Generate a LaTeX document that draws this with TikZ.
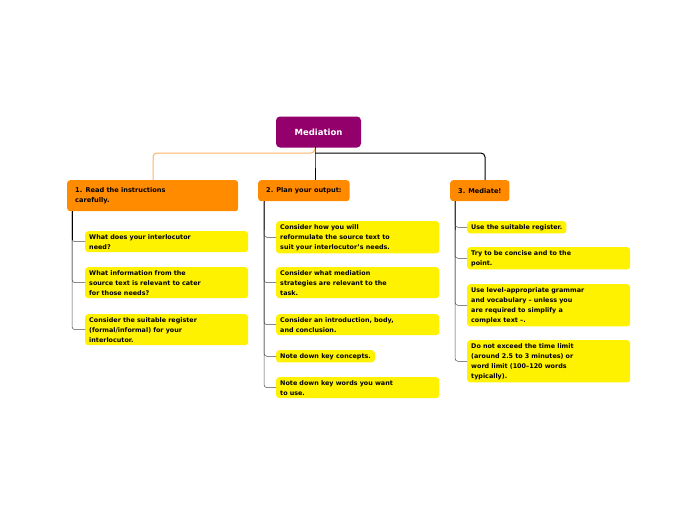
\documentclass[tikz,border=0pt]{standalone}
\usepackage{fontspec}
\setmainfont{DejaVu Sans}
\begin{document}
\begin{tikzpicture}[x=1pt,y=-1pt,
  leaf/.style={fill=yellow,rounded corners=3pt,anchor=north west,align=left,inner xsep=4pt,inner ysep=3pt,font=\bfseries\fontsize{6.4}{10}\selectfont,text width=155pt},
  cat/.style={fill=orange!85!red!90!yellow,rounded corners=3pt,anchor=north west,align=left,inner xsep=8pt,inner ysep=4pt,font=\bfseries\fontsize{6.6}{10}\selectfont},
  link/.style={draw=black!70,rounded corners=3pt,line width=0.5pt},
  main/.style={line width=1pt,rounded corners=4pt}]
\useasboundingbox (0,0) rectangle (697,520);
\node[fill=violet!70!purple,rounded corners=4pt,text=white,font=\bfseries\fontsize{8.5}{10}\selectfont,minimum width=85pt,minimum height=31pt] (root) at (318.5,132) {Mediation};
\node[cat,fill=orange!90!yellow,text width=155pt,minimum height=31pt] (b1) at (67,180) {1. Read the instructions\\carefully.};
\node[cat,fill=orange!85!red!80!yellow,minimum height=21pt] (b2) at (258,180) {2. Plan your output:};
\node[cat,fill=orange!85!red!80!yellow,minimum height=21pt] (b3) at (450,180) {3. Mediate!};
\coordinate (j) at (315,153);
\draw[main,draw=orange!60] (315,147) -- (j) -| (b1.north-|153,0);
\draw[main] (315,147) -- (j) -- (b2.north-|315,0);
\draw[main] (j) -| (b3.north-|485,0);
% column 1
\node[leaf] (a1) at (85,231) {What does your interlocutor\\need?};
\node[leaf] (a2) at (85,267) {What information from the\\source text is relevant to cater\\for those needs?};
\node[leaf] (a3) at (85,314) {Consider the suitable register\\(formal/informal) for your\\interlocutor.};
\foreach \n in {a1,a2,a3} \draw[link] (b1.south west-|72,0) |- (\n.west);
% column 2
\node[leaf] (c1) at (276,221) {Consider how you will\\reformulate the source text to\\suit your interlocutor's needs.};
\node[leaf] (c2) at (276,267) {Consider what mediation\\strategies are relevant to the\\task.};
\node[leaf] (c3) at (276,314) {Consider an introduction, body,\\and conclusion.};
\node[leaf,text width=] (c4) at (276,350) {Note down key concepts.};
\node[leaf] (c5) at (276,377) {Note down key words you want\\to use.};
\draw[line width=1pt] (b2.south west-|264,0) -- (264,230);
\foreach \n in {c1,c2,c3,c4,c5} \draw[link] (b2.south west-|264,0) |- (\n.west);
% column 3
\node[leaf,text width=] (d1) at (467,221) {Use the suitable register.};
\node[leaf] (d2) at (467,247) {Try to be concise and to the\\point.};
\node[leaf] (d3) at (467,284) {Use level-appropriate grammar\\and vocabulary – unless you\\are required to simplify a\\complex text –.};
\node[leaf] (d4) at (467,340) {Do not exceed the time limit\\(around 2.5 to 3 minutes) or\\word limit (100–120 words\\typically).};
\draw[line width=1pt] (b3.south west-|455,0) -- (455,230);
\foreach \n in {d1,d2,d3,d4} \draw[link] (b3.south west-|455,0) |- (\n.west);
\draw[line width=1pt] (b1.south west-|72,0) -- (72,240);
\end{tikzpicture}
\end{document}
